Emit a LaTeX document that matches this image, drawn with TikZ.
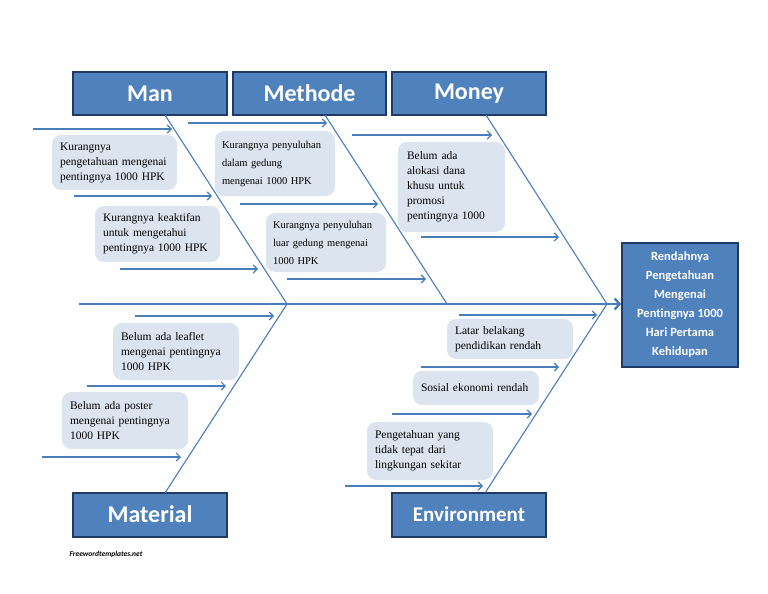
\documentclass[tikz,border=0pt]{standalone}
\usepackage{fontspec}
\setmainfont{Liberation Serif}
\newfontfamily\hdr[RawFeature=-liga]{Carlito}
\usetikzlibrary{arrows.meta}
\definecolor{bone}{HTML}{4A7EBB}
\definecolor{hfill}{HTML}{4F81BD}
\definecolor{hdraw}{HTML}{1F3A63}
\definecolor{tfill}{HTML}{DCE4F0}
\newcommand\lnx[1]{\mbox{#1}}
\begin{document}
\begin{tikzpicture}[x=1pt,y=-1pt,
 hbox/.style={draw=hdraw, line width=1.5pt, fill=hfill, text=white, inner sep=0pt,
   font=\hdr\bfseries\fontsize{24}{28}\selectfont},
 tbox/.style={fill=tfill, rounded corners=9pt, inner xsep=8pt, inner ysep=0pt, align=left,
   font=\fontsize{11.5}{15}\selectfont},
 tboxs/.style={tbox, font=\fontsize{10.5}{18}\selectfont},
 bonel/.style={draw=bone, line width=1.1pt},
 sarr/.style={draw=bone, line width=1.2pt, -{Straight Barb[length=4pt,width=8pt]}},
]
\useasboundingbox (0,0) rectangle (768,594);

% header boxes
\node[hbox, minimum width=154pt, minimum height=43pt] (man) at (150,93.5) {Man};
\node[hbox, minimum width=153pt, minimum height=43pt] (methode) at (309.5,93.5) {\raisebox{1.5pt}{Methode}};
\node[hbox, minimum width=154pt, minimum height=43pt] (money) at (469,93.5) {\raisebox{1.5pt}{Money}};
\node[hbox, minimum width=154pt, minimum height=44pt] (material) at (150,515) {\raisebox{1pt}{Material}};
\node[hbox, minimum width=154pt, minimum height=44pt, font=\hdr\bfseries\fontsize{21}{25}\selectfont] (environment) at (469,515) {\raisebox{2pt}{Environment}};
\node[hbox, minimum width=116pt, minimum height=124pt, align=center,
  font=\hdr\bfseries\fontsize{12.5}{19}\selectfont] (effect) at (680,305)
  {Rendahnya\\Pengetahuan\\Mengenai\\Pentingnya 1000\\Hari Pertama\\Kehidupan};

% cause boxes
\node[tbox, minimum width=125pt, minimum height=55pt, text width=109pt] (m1) at (114.5,162.5)
  {\lnx{Kurangnya}\\\lnx{pengetahuan mengenai}\\\lnx{pentingnya 1000 HPK}};
\node[tbox, minimum width=125pt, minimum height=56pt, text width=109pt] (m2) at (157.5,234)
  {\lnx{Kurangnya keaktifan}\\\lnx{untuk mengetahui}\\\lnx{pentingnya 1000 HPK}};
\node[tboxs, minimum width=120pt, minimum height=65pt, text width=106pt, inner xsep=7pt] (t1) at (275,163.5)
  {\lnx{Kurangnya penyuluhan}\\\lnx{dalam gedung}\\\lnx{mengenai 1000 HPK}};
\node[tboxs, minimum width=120pt, minimum height=59pt, text width=106pt, inner xsep=7pt] (t2) at (326,242.5)
  {\lnx{Kurangnya penyuluhan}\\\lnx{luar gedung mengenai}\\\lnx{1000 HPK}};
\node[tbox, minimum width=107pt, minimum height=90pt, text width=89pt, inner xsep=9pt] (y1) at (451.5,187)
  {\lnx{Belum ada}\\\lnx{alokasi dana}\\\lnx{khusu untuk}\\\lnx{promosi}\\\lnx{pentingnya 1000}};
\node[tbox, minimum width=126pt, minimum height=57pt, text width=110pt] (a1) at (176,351.5)
  {\lnx{Belum ada leaflet}\\\lnx{mengenai pentingnya}\\\lnx{1000 HPK}};
\node[tbox, minimum width=126pt, minimum height=57pt, text width=110pt] (a2) at (125,420.5)
  {\lnx{Belum ada poster}\\\lnx{mengenai pentingnya}\\\lnx{1000 HPK}};
\node[tbox, minimum width=126pt, minimum height=40pt, text width=110pt] (e1) at (510,339)
  {\lnx{Latar belakang}\\\lnx{pendidikan rendah}};
\node[tbox, minimum width=126pt, minimum height=34pt, text width=110pt] (e2) at (476,388)
  {\lnx{Sosial ekonomi rendah}};
\node[tbox, minimum width=126pt, minimum height=58pt, text width=110pt] (e3) at (430,451)
  {\lnx{Pengetahuan yang}\\\lnx{tidak tepat dari}\\\lnx{lingkungan sekitar}};

% spine
\coordinate (spine) at (79,304);
\coordinate (jA) at (287,304);
\coordinate (jB) at (447,304);
\coordinate (jC) at (607,304);
\draw[draw=bone, line width=2.4pt, -{Straight Barb[length=5pt,width=11pt]}] (spine) -- (spine -| effect.west);

% bones
\coordinate (manTop) at (165,115);
\coordinate (metTop) at (325,115);
\coordinate (monTop) at (486,115);
\coordinate (matBot) at (165,493);
\coordinate (envBot) at (485,493);
\draw[bonel] (manTop) -- (jA) -- (matBot);
\draw[bonel] (metTop) -- (jB);
\draw[bonel] (monTop) -- (jC) -- (envBot);

% small arrows
\foreach \a/\b/\y [count=\i] in {
  33/172/129, 74/212/196, 120/258/269,
  188/327/123, 240/378/204, 287/426/279,
  352/492/135, 421/559/237,
  135/274/316, 87/226/386, 42/181/457,
  459/597/315, 421/559/367, 392/532/414, 345/483/486}{
  \coordinate (s\i) at (\a,\y);
  \coordinate (e\i) at (\b,\y);
  \draw[sarr] (s\i) -- (e\i);
}

% footer
\node[font=\hdr\bfseries\itshape\fontsize{7.5}{8}\selectfont, inner sep=0pt] (foot) at (106,554) {Freewordtemplates.net};
\end{tikzpicture}
\end{document}
